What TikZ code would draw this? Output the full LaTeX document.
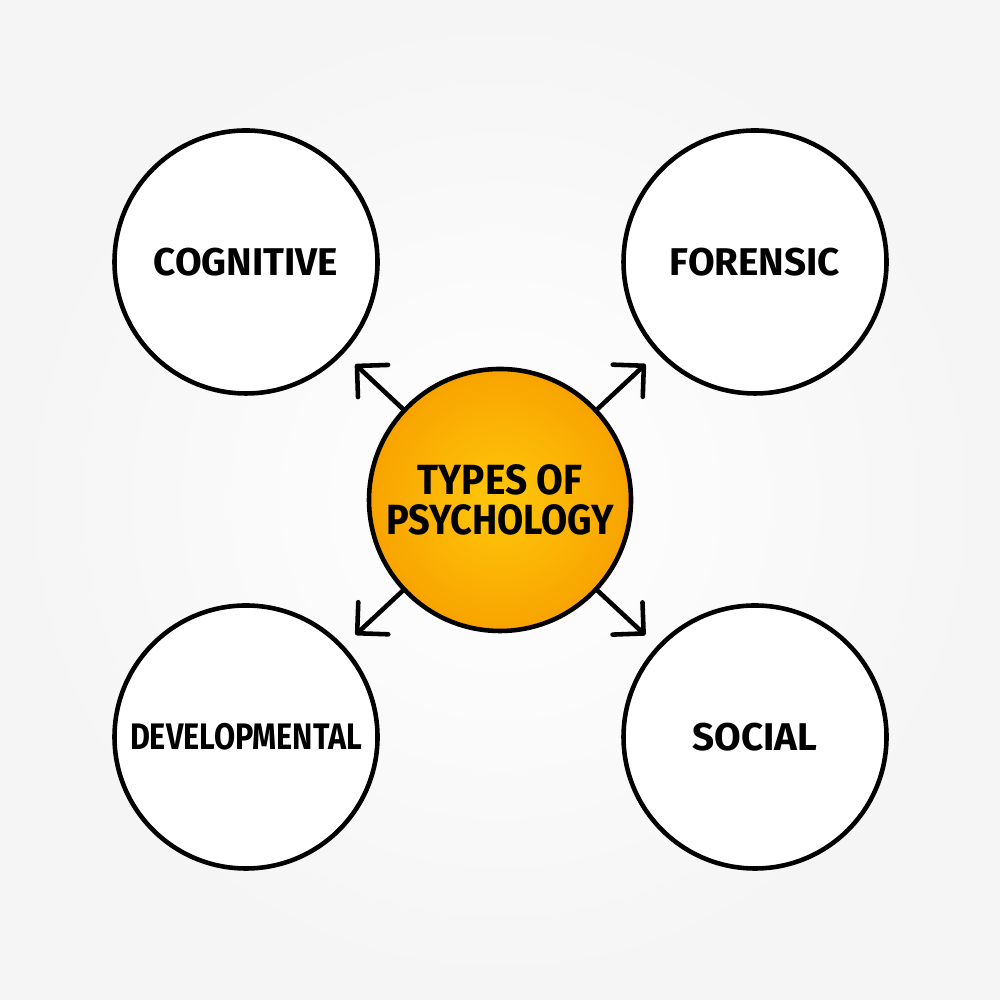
\documentclass[tikz,border=0pt]{standalone}
\usepackage{fontspec}
\setmainfont{Fira Sans}
\usepackage{tikz}
\usetikzlibrary{arrows.meta, positioning}
\tikzset{>={Straight Barb[length=2.2mm, width=4.4mm, line cap=round, line join=round]}}
\definecolor{hubin}{HTML}{FFC80A}
\definecolor{hubout}{HTML}{F8A300}
\tikzset{
	ring/.style={circle, draw, line width=1.3pt, fill=white, minimum size=2.63cm, inner sep=0pt, font=\bfseries\fontsize{11}{13}\selectfont},
	hub/.style={circle, draw, line width=1.3pt, inner color=hubin, outer color=hubout, minimum size=2.62cm, inner sep=0pt, align=center, font=\bfseries\fontsize{12}{11.5}\selectfont}
}

\begin{document}
\begin{tikzpicture}[line width=1.3pt, line cap=round]
		\shade[inner color=white, outer color=black!4] (0,0) rectangle (10,10);
		\useasboundingbox (0,0) rectangle (10,10);
		
		\node [hub] (T) at (5,5) {\scalebox{0.92}[1]{TYPES OF}\\\scalebox{0.9}[1]{PSYCHOLOGY}};
		\node [ring] (C) at (2.46,7.38) {COGNITIVE};
		\node [ring] (F) at (7.55,7.38) {FORENSIC};
		\node [ring] (D) at (2.46,2.63) {\fontsize{10.5}{12}\selectfont\scalebox{0.83}[1]{DEVELOPMENTAL}};
		\node [ring] (S) at (7.55,2.63) {SOCIAL};
		
		\draw[->, shorten >=1.6mm] (T) -- (C);
		\draw[->, shorten >=1.6mm] (T) -- (F);
		\draw[->, shorten >=1.6mm] (T) -- (D);
		\draw[->, shorten >=1.6mm] (T) -- (S);
		\end{tikzpicture}
\end{document}
